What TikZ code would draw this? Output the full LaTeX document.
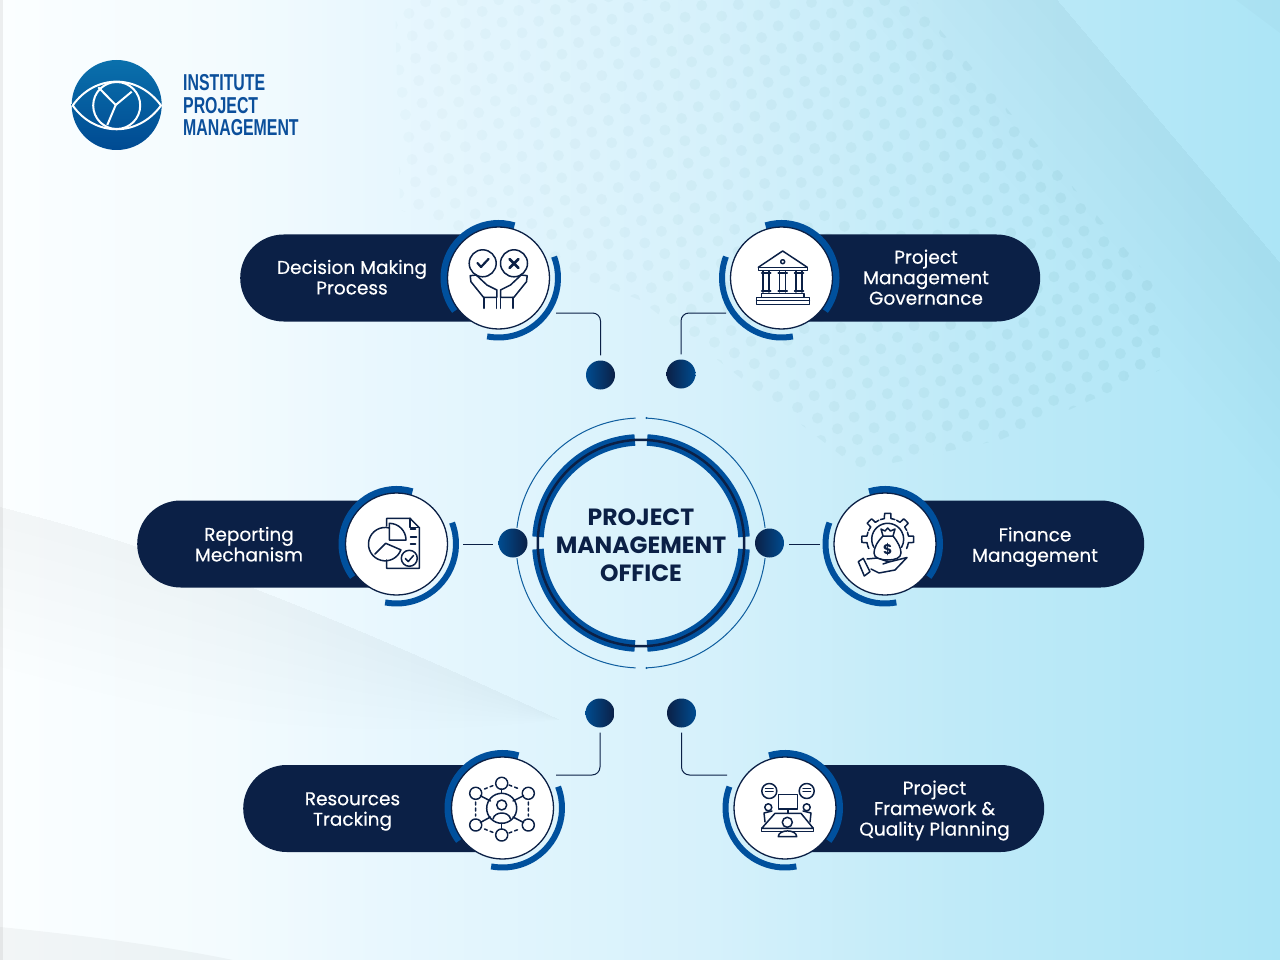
\documentclass[tikz,border=0pt]{standalone}
\usepackage{fontspec}
\setmainfont{Poppins}
\newfontfamily\labelfont[FakeBold=0.35]{Poppins}
\newfontfamily\logofont[FakeStretch=0.69]{Liberation Sans}
\usetikzlibrary{shapes.misc,fadings}
\definecolor{navy}{HTML}{0B2046}
\definecolor{ringblue}{HTML}{00509D}
\definecolor{thinblue}{HTML}{0F5E9F}
\definecolor{dotblue}{HTML}{004C90}
\definecolor{logotop}{HTML}{0A70AC}
\definecolor{logobot}{HTML}{004A92}
\definecolor{logotext}{HTML}{0B4F9B}
\definecolor{bgA}{HTML}{FBFEFF}
\definecolor{bgF}{HTML}{F3FBFE}
\definecolor{bgB}{HTML}{E8F7FE}
\definecolor{bgC}{HTML}{D6F1FB}
\definecolor{bgD}{HTML}{BFEAF8}
\definecolor{bgE}{HTML}{ACE5F6}
\pgfdeclarehorizontalshading{bgshade}{100bp}{color(0bp)=(bgA);color(25bp)=(bgA);color(34bp)=(bgF);color(40bp)=(bgB);color(52.5bp)=(bgC);color(62.5bp)=(bgD);color(75bp)=(bgE);color(100bp)=(bgE)}
\tikzset{
    pillL/.style={rounded rectangle,rounded rectangle east arc=none,fill=navy,anchor=west,inner sep=0pt,minimum height=87,text width=0pt},
    pillR/.style={rounded rectangle,rounded rectangle west arc=none,fill=navy,anchor=west,inner sep=0pt,minimum height=87,text width=0pt},
    label/.style={text=white,align=center,font=\fontsize{18.5}{20.5}\labelfont},
    badge/.style={circle,fill=white,draw=navy,line width=1.3,minimum size=102,inner sep=0pt},
    ringin/.style={draw=ringblue,line width=7},
    ringout/.style={draw=ringblue,line width=6},
    wire/.style={draw=navy,line width=1,rounded corners=8},
    dotL/.style={circle,left color=dotblue,right color=navy,minimum size=29,inner sep=0pt},
    dotR/.style={circle,left color=navy,right color=dotblue,minimum size=29,inner sep=0pt},
    icon/.style={draw=navy,line width=1.5,line join=round,line cap=round},
    logotxt/.style={text=logotext,anchor=west,inner sep=0pt,font=\fontsize{23}{23}\logofont\bfseries}
}
\begin{document}
\begin{tikzpicture}[x=1pt,y=-1pt]
    \useasboundingbox (0,0) rectangle (1280,960);
    %% background
    \shade[shading=bgshade] (0,0) rectangle (1280,960);
    \foreach \d in {25,50,...,200}
        \fill[black!45!cyan!60!gray,opacity=0.006] (1057-\d,0) -- (1057,0) -- (1280,263) -- (1280,263+\d*1.18) -- cycle;
    \fill[black!45!cyan!60!gray,opacity=0.04] (1236,0) -- (1280,0) -- (1280,33) -- cycle;
    \foreach \d in {20,40,...,160}
        \fill[gray,opacity=0.0035] (0,507) .. controls (130,540) and (280,590) .. (560,720) .. controls (280,590+\d) and (130,540+\d) .. (0,507+\d) -- cycle;
    \fill[gray,opacity=0.07] (0,927) .. controls (80,935) and (160,945) .. (233,960) -- (0,960) -- cycle;
    \fill[gray,opacity=0.12] (0,0) rectangle (3,960);
    %% dots of the background
    \begin{scope}
        \clip (395,0) -- (915,0) -- (1160,290) -- (1160,370) -- (1000,440) -- (860,470) -- (640,300) -- (400,210) -- cycle;
        \fill[teal!60!gray,opacity=0.11,path fading=west]
            \foreach \i in {-6,...,44} { \foreach \j in {-28,...,20} {
                (583+20*\i+16.7*\j,41.7+10.7*\i-11.7*\j) circle (5.5)
            } };
    \end{scope}

    %% logo
    \node[circle,top color=logotop,bottom color=logobot,minimum size=90,inner sep=0pt] (logoBadge) at (116.7,105) {};
    \draw[white,line width=2] (72.7,105.5) .. controls (95,73.7) and (138,73.7) .. (161,105.5) .. controls (138,137.2) and (95,137.2) .. (72.7,105.5) -- cycle;
    \draw[white,line width=2] (116.7,105.5) circle (23.5);
    \draw[white,line width=2] (98.3,87.3) -- (115.7,105) -- (131.7,91.7);
    \draw[white,line width=2] (115.7,105) -- (107.3,125);
    \node[logotxt] (logoA) at (183,83) {INSTITUTE};
    \node[logotxt] (logoB) at (183,105.5) {PROJECT};
    \node[logotxt] (logoC) at (183,128) {MANAGEMENT};

    %% pills
    \node[pillL,minimum width=259] (pillDecision) at (240,278) {};
    \node[pillL,minimum width=260] (pillReporting) at (137,544) {};
    \node[pillL,minimum width=260] (pillResources) at (243,808.5) {};
    \node[pillR,minimum width=259] (pillGovernance) at (781,278) {};
    \node[pillR,minimum width=259] (pillFinance) at (885,544) {};
    \node[pillR,minimum width=259] (pillFramework) at (785,808.5) {};

    %% badges with their two arcs
    \foreach \n/\cx/\cy in {Decision/498.5/278,Reporting/396.5/544,Resources/502.5/808}{
        \draw[ringin] (\cx,\cy) ++(-73:54.5) arc(-73:-217:54.5);
        \draw[ringout] (\cx,\cy) ++(-21:59.5) arc(-21:101:59.5);
        \node[badge] (badge\n) at (\cx,\cy) {};
    }
    \foreach \n/\cx/\cy in {Governance/781.5/278,Finance/885/544,Framework/785/808}{
        \draw[ringin] (\cx,\cy) ++(-107:54.5) arc(-107:37:54.5);
        \draw[ringout] (\cx,\cy) ++(201:59.5) arc(201:79:59.5);
        \node[badge] (badge\n) at (\cx,\cy) {};
    }

    %% labels
    \node[label] (txtDecision) at (352,277.2) {Decision Making\\Process};
    \node[label] (txtGovernance) at (926,277.2) {Project\\Management\\Governance};
    \node[label] (txtReporting) at (249,544.2) {Reporting\\Mechanism};
    \node[label] (txtFinance) at (1035,547) {Finance\\Management};
    \node[label] (txtResources) at (352.5,811.5) {Resources\\Tracking};
    \node[label] (txtFramework) at (934.5,810.5) {Project\\Framework \&\\Quality Planning};

    %% centre rings
    \coordinate (centre) at (641,543);
    \foreach \a in {0,90,180,270}{
        \draw[ringblue,line width=11.5] (centre) ++(\a+3.4:103.2) arc(\a+3.4:\a+86.6:103.2);
    }
    \foreach \s/\e in {7/87.5,92.5/173,187/267.5,272.5/353}{
        \draw[thinblue,line width=1] (centre) ++(\s:125) arc(\s:\e:125);
    }
    \draw[navy,line width=2.5] (centre) circle (103.2);
    \fill[thinblue] (646.5,418) circle (1.2) (646.5,668) circle (1.2);
    \node[text=navy,align=center,font=\fontsize{23.5}{28}\selectfont\bfseries] (txtCentre) at (641,545.5) {PROJECT\\MANAGEMENT\\OFFICE};

    %% dots and connectors
    \node[dotL] (dotDecision) at (600.5,375) {};
    \node[dotR] (dotGovernance) at (681,374) {};
    \node[dotL] (dotReporting) at (513,543) {};
    \node[dotR] (dotFinance) at (769.5,543) {};
    \node[dotL] (dotResources) at (600,713) {};
    \node[dotR] (dotFramework) at (681.5,713) {};
    \coordinate (endDecision) at (556,313);
    \coordinate (endGovernance) at (726,313);
    \coordinate (endReporting) at (463,544);
    \coordinate (endFinance) at (820,544);
    \coordinate (endResources) at (556,775);
    \coordinate (endFramework) at (727,775);
    \draw[wire,shorten >=5] (endDecision) -| (dotDecision);
    \draw[wire,shorten >=5] (endGovernance) -| (dotGovernance);
    \draw[wire,shorten >=5] (endResources) -| (dotResources);
    \draw[wire,shorten >=5] (endFramework) -| (dotFramework);
    \draw[wire,shorten >=5] (endReporting) -- (endReporting -| dotReporting.west);
    \draw[wire,shorten >=5] (endFinance) -- (endFinance -| dotFinance.east);

    %% icon: hands
    \begin{scope}[shift={(498.5,278)}]
        \draw[icon] (-15.8,-14.7) circle (13.5) (15.5,-14.7) circle (13.5);
        \draw[icon,line width=2.2] (-21,-15) -- (-17.5,-11) -- (-10,-19);
        \draw[icon,line width=2.6] (11,-19) -- (20,-10) (20,-19) -- (11,-10);
        \foreach \s in {1,-1}{
            \begin{scope}[shift={(0.2,0)},xscale=\s]
                \draw[icon] (-1.8,19.3) -- (-1.8,12) -- (-11.8,7) -- (-22.5,-3) -- (-28.5,-2.3) -- (-27.8,3.7) -- (-15.2,19.3) -- cycle;
                \draw[icon] (-14.5,19.3) -- (-14.5,30.3) (-2,19.3) -- (-2,30.3);
            \end{scope}
        }
    \end{scope}
    %% icon: bank
    \begin{scope}[shift={(781.5,278)}]
        \draw[icon] (-23.2,-10.7) -- (1.2,-27) -- (25.8,-10.7);
        \draw[icon] (-23.2,-10.7) rectangle (25.8,-7.3);
        \draw[icon] (1.2,-16.3) circle (2);
        \foreach \cx in {-15.3,1.2,17.5}{
            \draw[icon] (\cx-3,-7) -- (\cx-3,14) (\cx+3,-7) -- (\cx+3,14);
            \draw[icon] (\cx-4.5,-5) -- (\cx+4.5,-5) (\cx-4.5,13) -- (\cx+4.5,13);
        }
        \draw[icon] (-20,15.5) rectangle (22.5,19.3);
        \draw[icon] (-24.8,19.3) rectangle (27.8,26.3);
        \draw[icon] (-24.8,22.7) -- (27.8,22.7);
    \end{scope}
    %% icon: report
    \begin{scope}[shift={(396.5,544)}]
        \draw[icon] (-9.8,-18) -- (-9.8,-25.7) -- (13.5,-25.7) -- (22.8,-16.3) -- (22.8,24.3) -- (-9.8,24.3) -- (-9.8,16);
        \draw[icon] (13.5,-25.7) -- (13.5,-16.3) -- (22.8,-16.3);
        \draw[icon] (-7,-16) arc(-75:-340:16.7) -- (-10.8,-0.7) -- (-21.5,10);
        \draw[icon] (-7.2,-20.7) arc(-90:0:16.7) -- (-7.2,-4) -- cycle;
        \draw[icon] (14,-15) -- (19,-15) (14,-7) -- (20,-7) (14,0) -- (19,0);
        \draw[icon,fill=white] (12.8,14.3) circle (8);
        \draw[icon] (8.8,14.5) -- (11.8,17.5) -- (17,11.5);
    \end{scope}
    %% icon: finance
    \begin{scope}[shift={(885,544)}]
        \begin{scope}[shift={(2.7,-4.7)}]
            \foreach \a in {-180,-135,-90,-45,0}{
                \draw[icon] (\a-20:21) arc(\a-20:\a-9:21) -- (\a-7:26) arc(\a-7:\a+7:26) -- (\a+9:21) arc(\a+9:\a+20:21);
            }
            \draw[icon] (-200:21) -- (-206:21) (20:21) -- (26:21);
            \draw[icon] (150:16) arc(150:390:16);
        \end{scope}
        \draw[icon,fill=white] (-2,-8) .. controls (-8,-2) and (-11,4) .. (-11,9) .. controls (-11,14) and (-5,16) .. (2.7,16) .. controls (10,16) and (16,14) .. (16,9) .. controls (16,4) and (13,-2) .. (8,-8) -- cycle;
        \draw[icon] (-2,-8) -- (-4,-15) -- (0,-13) -- (2.7,-16) -- (5.5,-13) -- (10,-15) -- (8,-8);
        \node[text=navy,inner sep=0pt,font=\fontsize{14}{14}\selectfont\bfseries] (txtDollar) at (2.7,6) {\$};
        \draw[icon,fill=white] (-18,15) -- (-8,14) -- (4,18) -- (-2,20) (4,18) -- (22,13.5) -- (10,26) -- (-6,29) -- (-14,25);
        \draw[icon,fill=white] (-26.7,17.7) -- (-21.7,14.3) -- (-15,27.7) -- (-20.7,32) -- cycle;
    \end{scope}
    %% icon: network
    \begin{scope}[shift={(502.5,808)}]
        \draw[icon] (-0.8,0.3) circle (15);
        \foreach \px/\py/\qx/\qy in {-0.8/-24.7/-0.8/-15,-26.8/-14.7/-12/-7,25.8/-14.7/10.5/-7,-26.8/17/-12/9,25.8/17/10.5/9,-0.8/27/-0.8/15}{
            \draw[icon] (\px,\py) circle (6);
            \draw[icon] (\px,\py) ++(0,0) -- (\qx,\qy);
            \fill[white] (\px,\py) circle (5);
        }
        \draw[icon] (-0.8,-3) circle (5);
        \draw[icon] (-9.5,11) .. controls (-8,3) and (6.5,3) .. (8,11);
        \draw[icon,dashed] (-18,-19) -- (-8,-23) (6.5,-23) -- (17,-19) (-26.8,-6) -- (-26.8,8) (25.8,-6) -- (25.8,8) (-18,21) -- (-8,25) (6.5,25) -- (17,21);
    \end{scope}
    %% icon: meeting
    \begin{scope}[shift={(785,808)}]
        \draw[icon] (-6.7,-13.7) rectangle (12.7,1);
        \draw[icon] (3,1) -- (3,5.3) (-3.3,5.3) -- (8.3,5.3);
        \draw[icon] (-15.7,-17) circle (7.5) (21.7,-17) circle (7.5);
        \draw[icon] (-19.5,-19.5) -- (-12,-19.5) (-19.5,-16.5) -- (-12,-16.5) (18,-19.5) -- (25.5,-19.5) (18,-16.5) -- (25.5,-16.5);
        \draw[icon] (-16.7,-0.7) circle (3.5) (21.7,-0.7) circle (3.5);
        \draw[icon] (-20,14) -- (-21,5) -- (-13,3) (25,14) -- (26,5) -- (18,3);
        \draw[icon] (-10,5.3) -- (16,5.3) -- (28.3,20.3) -- (-23.3,20.3) -- cycle;
        \draw[icon] (-23.3,20.3) -- (-23.3,23.7) -- (28.3,23.7) -- (28.3,20.3);
        \draw[icon,fill=white] (2.3,14.3) circle (5);
        \draw[icon,fill=white] (-6.7,28.7) .. controls (-6.7,21) and (11.7,21) .. (11.7,28.7) -- cycle;
    \end{scope}
\end{tikzpicture}
\end{document}
